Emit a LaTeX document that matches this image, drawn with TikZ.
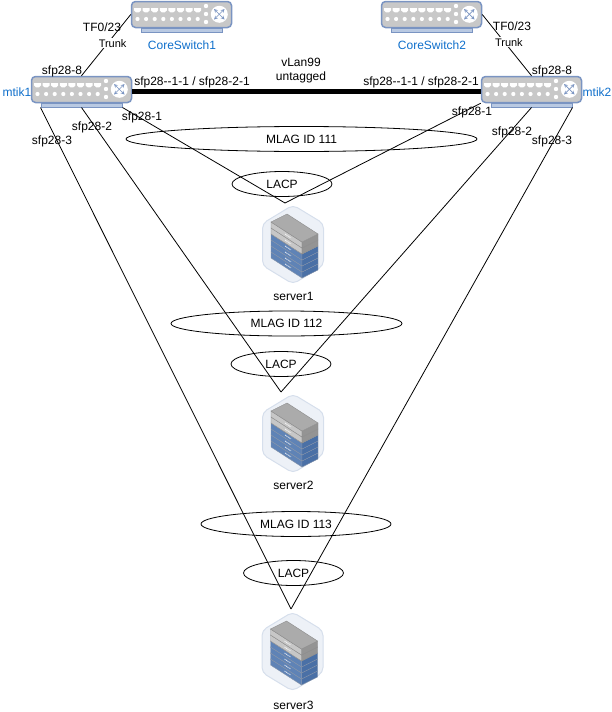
\documentclass[tikz,border=0pt]{standalone}
\usepackage{fontspec}
\setmainfont{Liberation Sans}
\usetikzlibrary{shapes.geometric}
\definecolor{swline}{HTML}{7A94C2}
\definecolor{swfill}{HTML}{C8C8C8}
\definecolor{swbase}{HTML}{B9C9E2}
\definecolor{labelblue}{HTML}{0F6FCB}
\definecolor{hexfill}{HTML}{EDF1F7}
\definecolor{hexline}{HTML}{D6DFEC}
\definecolor{rackleft}{HTML}{5F83B6}
\definecolor{rackright}{HTML}{4A70A6}
\definecolor{sepline}{HTML}{8794A8}
\tikzset{
  every node/.style={font=\fontsize{12}{14}\selectfont},
  swbody/.style={rectangle, rounded corners=4pt, draw=swline, line width=1.5pt, fill=swfill, minimum width=100pt, minimum height=26pt, inner sep=0pt},
  swfoot/.style={rectangle, draw=swline, line width=1pt, fill=swbase, minimum width=81pt, minimum height=4pt, inner sep=0pt},
  mlagring/.style={ellipse, draw=black, line width=0.8pt, inner sep=0pt, minimum height=25pt},
  blabel/.style={text=labelblue},
  link/.style={draw=black, line width=0.8pt},
  trunklabel/.style={fill=white, inner sep=1pt, font=\fontsize{11}{13}\selectfont},
  switchicon/.pic={
    \node (foot) [swfoot] at (0,15.5) {};
    \node (body) [swbody] at (0,0) {};
    \foreach \i in {0,...,7} {
      \fill [white] (-47.5+8.6*\i,-6.5) -- ++(7,0) -- ++(0,2.5) -- ++(-2,1.8) -- ++(-3,0) -- ++(-2,-1.8) -- cycle;
      \fill [white] (-44+8.6*\i,4.5) circle (2.1pt);
    }
    \foreach \y in {-8.5,-0.5,7.5}
      \fill [white] (24.5,\y) circle (2.2pt);
    \fill [white] (37.8,-0.2) circle (8.5pt);
    \draw [swline, line width=0.7pt, <->, >=stealth] (32.5,-5.5) -- (43,5);
    \draw [swline, line width=0.7pt, <->, >=stealth] (43,-5.5) -- (32.5,5);
  },
  servericon/.pic={
    \draw [hexline, fill=hexfill, line width=1pt, rounded corners=5pt] (0,-39.5) -- (30.5,-21) -- (30.5,21) -- (0,39.5) -- (-30.5,21) -- (-30.5,-21) -- cycle;
    \foreach \d/\cl/\cr/\sl in {30/rackleft/rackright/sepline,24/rackleft/rackright/sepline,18/rackleft/rackright/sepline,12/rackleft/rackright/sepline,6/black!22/black!42/black!45,0/black!22/black!42/black!45} {
      \draw [\sl, line width=0.4pt, fill=\cl] (-22,-22.5+\d) -- (9,-2.5+\d) -- (9,3.5+\d) -- (-22,-16.5+\d) -- cycle;
      \draw [\sl, line width=0.4pt, fill=\cr] (9,-2.5+\d) -- (25,-10.5+\d) -- (25,-4.5+\d) -- (9,3.5+\d) -- cycle;
      \draw [white, line width=0.7pt, dash pattern=on 1pt off 0.7pt] (-8,-10.5+\d) -- (-2,-6.6+\d);
    }
    \draw [black!45, line width=0.4pt, fill=black!33] (-22,-22.5) -- (-6,-30.5) -- (25,-10.5) -- (9,-2.5) -- cycle;
  }
}
\begin{document}
\begin{tikzpicture}[x=1pt,y=-1pt]
    \useasboundingbox (0,0) rectangle (612,712);

    % switches
    \pic (CoreSwitch1) at (181.5,14.5) {switchicon};
    \pic (CoreSwitch2) at (431.5,14.5) {switchicon};
    \pic (mtik1) at (81.5,89.5) {switchicon};
    \pic (mtik2) at (531.5,89.5) {switchicon};

    % servers
    \pic (server1) at (293,244.5) {servericon};
    \pic (server2) at (293,433.5) {servericon};
    \pic (server3) at (292.5,651.5) {servericon};
    \coordinate (tip1) at (285,203);
    \coordinate (tip2) at (281,392);
    \coordinate (tip3) at (291,609);

    % links
    \draw [line width=5pt] ([yshift=-2pt]mtik1body.east) -- ([yshift=-2pt]mtik2body.west);
    \draw [link] (mtik1body.north) -- node (trunk1) [trunklabel, xshift=6.5pt, yshift=2pt] {Trunk} (CoreSwitch1body.west);
    \draw [link] (mtik2body.north) -- node (trunk2) [trunklabel, xshift=2pt, yshift=3pt] {Trunk} (CoreSwitch2body.east);
    \draw [link] (mtik1foot.south east) -- (tip1);
    \draw [link] (mtik2body.south west) -- (tip1);
    \draw [link] (mtik1foot.south) -- (tip2);
    \draw [link] (mtik2foot.south) -- (tip2);
    \draw [link] (mtik1foot.south west) -- (tip3);
    \draw [link] (mtik2foot.south east) -- (tip3);

    % rings
    \node (mlag111) [mlagring, minimum width=351pt] at (301.5,139) {MLAG ID 111};
    \node (lacp1) [mlagring, minimum width=100pt] at (282,184) {LACP};
    \node (mlag112) [mlagring, minimum width=231pt] at (286.5,323.5) {MLAG ID 112};
    \node (lacp2) [mlagring, minimum width=100pt] at (281,364) {LACP};
    \node (mlag113) [mlagring, minimum width=190pt] at (296,524) {MLAG ID 113};
    \node (lacp3) [mlagring, minimum width=100pt] at (293.5,573) {LACP};

    % names
    \node (nameCore1) [blabel] at (182,45) {CoreSwitch1};
    \node (nameCore2) [blabel] at (432,45) {CoreSwitch2};
    \node (nameMtik1) [blabel] at (17,92) {mtik1};
    \node (nameMtik2) [blabel] at (597,92) {mtik2};
    \node (nameSrv1) at (293.5,296) {server1};
    \node (nameSrv2) at (293.5,485) {server2};
    \node (nameSrv3) at (293.5,705) {server3};

    % port labels
    \node (tfA) at (102,27) {TF0/23};
    \node (tfB) at (512,26) {TF0/23};
    \node (eightA) at (62,71) {sfp28-8};
    \node (eightB) at (552,71) {sfp28-8};
    \node (bondA) at (192,82) {sfp28-{}-1-1 / sfp28-2-1};
    \node (bondB) at (421,82) {sfp28-{}-1-1 / sfp28-2-1};
    \node (vlan) [align=center] at (301,71) {vLan99\\untagged};
    \node (oneA) at (142,117) {sfp28-1};
    \node (twoA) at (92,127) {sfp28-2};
    \node (threeA) at (52,141) {sfp28-3};
    \node (oneB) at (472,112) {sfp28-1};
    \node (twoB) at (512,132) {sfp28-2};
    \node (threeB) at (552,141) {sfp28-3};
\end{tikzpicture}
\end{document}
